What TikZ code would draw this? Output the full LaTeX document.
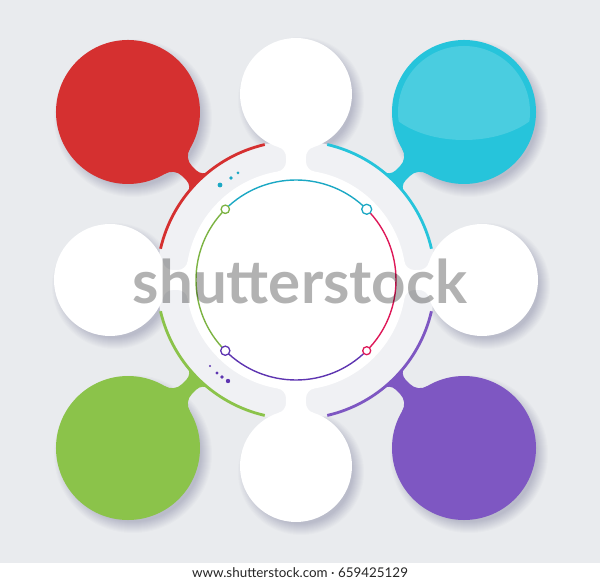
\documentclass[tikz,border=0pt]{standalone}
\usepackage{fontspec}
\newfontfamily\latofont{Lato}
\definecolor{bgc}{RGB}{233,235,238}
\definecolor{ringc}{RGB}{240,241,244}
\definecolor{cred}{RGB}{213,48,48}
\definecolor{ccyan}{RGB}{38,196,219}
\definecolor{ccyanhi}{RGB}{74,205,224}
\definecolor{cgreen}{RGB}{139,195,74}
\definecolor{cpurple}{RGB}{126,87,194}
\definecolor{icyan}{RGB}{27,168,196}
\definecolor{igreen}{RGB}{124,179,66}
\definecolor{ipurple}{RGB}{94,53,177}
\definecolor{icrimson}{RGB}{222,24,88}
\tikzset{
  shadowlayer/.style={fill=black!80!blue, fill opacity=0.016},
  outer arc/.style={line width=2.8pt},
  inner arc/.style={line width=1.4pt},
  marker/.style={fill=white, line width=1.3pt},
}
% soft shadow: #1 centre, #2 radius
\newcommand{\softshadow}[2]{%
  \foreach \k in {0,...,11}
    \fill[shadowlayer] ($(#1)+(5,-6)$) circle[radius={#2-4+\k}];}
\newcommand{\colneck}[2]{%
  \begin{scope}[rotate=#2]
    \fill[#1] (0,0) -- (138.10,15.86) arc[start angle=-173.45, end angle=-90, radius=10]
      -- (154.20,7) arc[start angle=-90, end angle=-14.13, radius=14]
      -- (237.6,0) -- (167.78,-17.58) arc[start angle=14.13, end angle=90, radius=14]
      -- (148.03,-7) arc[start angle=90, end angle=173.45, radius=10] -- cycle;
  \end{scope}}
\newcommand{\whiteneck}[1]{%
  \begin{scope}[rotate=#1]
    \fill[white] (0,0) -- (108.46,18.33) arc[start angle=-170.41, end angle=-90, radius=10]
      -- (123.10,10) arc[start angle=-90, end angle=-17.64, radius=10]
      -- (186,0) -- (132.63,-16.97) arc[start angle=17.64, end angle=90, radius=10]
      -- (118.32,-10) arc[start angle=90, end angle=170.41, radius=10] -- cycle;
  \end{scope}}
\usetikzlibrary{calc}
\begin{document}
\begin{tikzpicture}[x=1pt,y=1pt]
\useasboundingbox (-296,-303) rectangle (304,280);
\fill[bgc] (-296,-283) rectangle (304,280);
\fill[white] (-296,-303) rectangle (304,-283);
\coordinate (O) at (0,0);
\foreach \a in {135,45,225,315} \coordinate (s\a) at (\a:237.6);
\foreach \a in {0,90,180,270} \coordinate (w\a) at (\a:186);
% gray ring
\fill[ringc] (O) circle[radius=140];
% satellite shadows
\foreach \a in {135,45,225,315} {\softshadow{s\a}{72}}
\foreach \a in {0,90,180,270} {\softshadow{w\a}{56}}
% colored necks
\colneck{cred}{135}
\colneck{ccyan}{45}
\colneck{cgreen}{225}
\colneck{cpurple}{315}
% ring cover
\fill[ringc] (O) circle[radius=139];
% outer arcs
\draw[cred, outer arc] (103:139) arc[start angle=103, end angle=167, radius=139];
\draw[ccyan, outer arc] (13:139) arc[start angle=13, end angle=77, radius=139];
\draw[cgreen, outer arc] (193:139) arc[start angle=193, end angle=257, radius=139];
\draw[cpurple, outer arc] (283:139) arc[start angle=283, end angle=347, radius=139];
% white disc
\fill[white] (O) circle[radius=110];
% white necks
\whiteneck{0}
\whiteneck{90}
\whiteneck{180}
\whiteneck{270}
% satellites
\fill[cred] (s135) circle[radius=72];
\fill[ccyan] (s45) circle[radius=72];
\fill[cgreen] (s225) circle[radius=72];
\fill[cpurple] (s315) circle[radius=72];
\foreach \a in {0,90,180,270}
  \fill[white] (w\a) circle[radius=56];
% cyan highlight
\begin{scope}
  \clip (s45) circle[radius=66];
  \fill[ccyanhi] (168,190) ellipse[x radius=84, y radius=50];
\end{scope}
% inner thin circle
\draw[icyan, inner arc] (45:100) arc[start angle=45, end angle=135, radius=100];
\draw[igreen, inner arc] (135:100) arc[start angle=135, end angle=225, radius=100];
\draw[ipurple, inner arc] (225:100) arc[start angle=225, end angle=315, radius=100];
\draw[icrimson, inner arc] (-45:100) arc[start angle=-45, end angle=45, radius=100];
\draw[icyan, marker] (45:100) circle[radius=5];
\draw[igreen, marker] (135:100) circle[radius=4.2];
\draw[ipurple, marker] (225:100) circle[radius=4.6];
\draw[icrimson, marker] (315:100) circle[radius=4];
% dots
\fill[icyan] (-76,95) circle[radius=2.4];
\fill[icyan] (-65,102) circle[radius=1.9];
\fill[icyan] (-58,107) circle[radius=1.5];
\fill[ipurple] (-86,-86) circle[radius=1.2];
\fill[ipurple] (-79,-93) circle[radius=1.6];
\fill[ipurple] (-74,-97) circle[radius=1.9];
\fill[ipurple] (-68,-101) circle[radius=2.2];
% watermark
\node[font=\latofont\bfseries\fontsize{60}{60}\selectfont, text=black, text opacity=0.3, anchor=base, inner sep=0] (wm) at (4,-24) {shutterstock};
% caption
\node[font=\latofont\fontsize{13.4}{14}\selectfont, text=black!85, anchor=base, inner sep=0] (cap) at (4,-298) {www.shutterstock.com · 659425129};
\end{tikzpicture}
\end{document}
